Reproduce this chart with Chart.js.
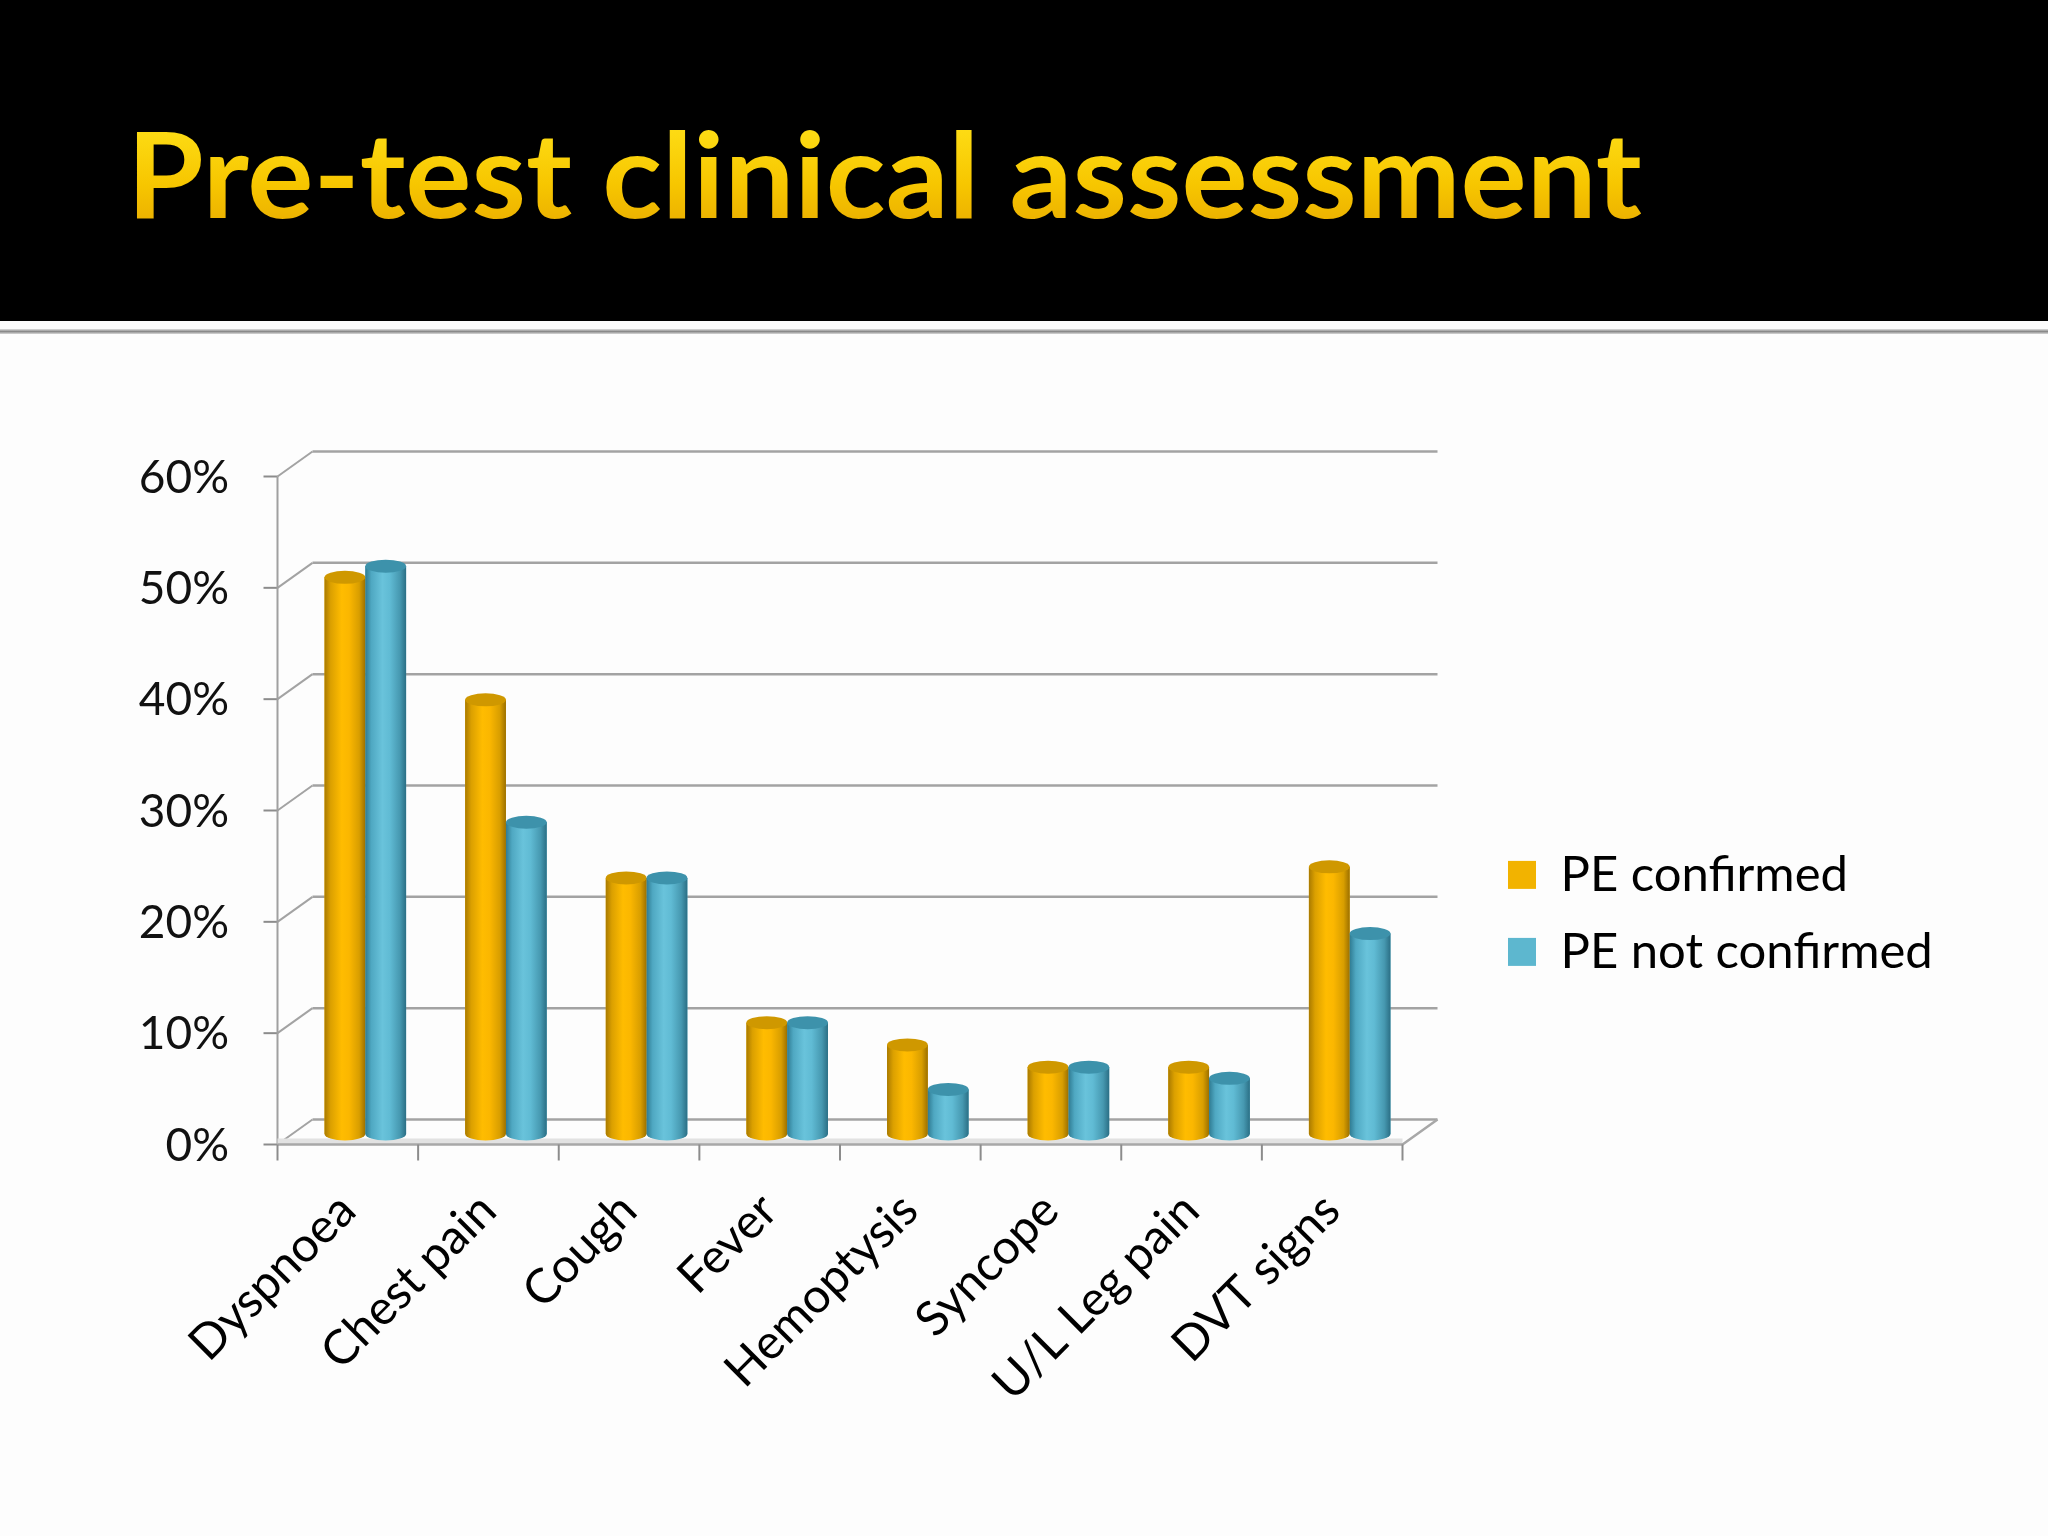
<!DOCTYPE html>
<html>
<head>
<meta charset="utf-8">
<script src="https://cdn.jsdelivr.net/npm/chart.js@4.4.1/dist/chart.umd.min.js"></script>
<style>
  html, body { margin: 0; padding: 0; }
  body { width: 2048px; height: 1536px; background: #fdfdfd; position: relative; overflow: hidden; font-family: Lato, "Open Sans", sans-serif; }
  #header { position: absolute; left: 0; top: 0; width: 2048px; height: 321px; background: #000; }
  #rule { position: absolute; left: 0; top: 329px; width: 2048px; height: 5px;
          background: linear-gradient(#e0e0e0, #8a8a8a 50%, #d8d8d8); }
  #title { position: absolute; left: 127px; top: 113px; margin: 0; font-size: 119px; line-height: 1;
           font-weight: 700; white-space: nowrap; transform-origin: 0 0;
           background: linear-gradient(#ffe21a, #f7c600 60%, #e9ac00); -webkit-background-clip: text;
           background-clip: text; color: transparent; }
  #wrap { position: absolute; left: 0; top: 0; width: 2048px; height: 1536px; }
</style>
</head>
<body>
<div id="header"></div>
<div id="rule"></div>
<h1 id="title">Pre-test clinical assessment</h1>
<div id="wrap"><canvas id="bar"></canvas></div>
<script>
// chart data
const categories = ['Dyspnoea', 'Chest pain', 'Cough', 'Fever', 'Hemoptysis', 'Syncope', 'U/L Leg pain', 'DVT signs'];
const peConfirmed = [50, 39, 23, 10, 8, 6, 6, 24];
const peNotConfirmed = [51, 28, 23, 10, 4, 6, 5, 18];
const yTicks = [0, 10, 20, 30, 40, 50, 60];

// squeeze the title to the slide width
const title = document.getElementById('title');
const tw = title.getBoundingClientRect().width;
title.style.transform = 'scaleX(' + (1515 / tw) + ')';

// 3D frame: back wall, left wall, floor
const frame3d = {
  id: 'frame3d',
  beforeDatasetsDraw(chart) {
    const ctx = chart.ctx;
    const y = chart.scales.y, x = chart.scales.x;
    const L = chart.chartArea.left, R = chart.chartArea.right;
    const dxB = 17.5, dyB = -14.5, dxF = -17.5, dyF = 10.5;
    ctx.save();
    ctx.lineCap = 'butt';
    yTicks.forEach(v => {
      const py = y.getPixelForValue(v);
      ctx.strokeStyle = '#a3a3a3';
      ctx.lineWidth = 2.5;
      ctx.beginPath();
      ctx.moveTo(L + dxB, py + dyB);
      ctx.lineTo(R + dxB, py + dyB);
      ctx.stroke();
      ctx.lineWidth = 2;
      ctx.beginPath();
      ctx.moveTo(L + dxF, py + dyF);
      ctx.lineTo(L + dxB, py + dyB);
      ctx.stroke();
      // tick marks on the front axis
      ctx.strokeStyle = '#8c8c8c';
      ctx.beginPath();
      ctx.moveTo(L + dxF - 14, py + dyF);
      ctx.lineTo(L + dxF, py + dyF);
      ctx.stroke();
    });
    const y0 = y.getPixelForValue(0), yTop = y.getPixelForValue(60);
    // front vertical axis
    ctx.strokeStyle = '#a0a0a0';
    ctx.lineWidth = 2;
    ctx.beginPath();
    ctx.moveTo(L + dxF, yTop + dyF);
    ctx.lineTo(L + dxF, y0 + dyF);
    ctx.stroke();
    // floor front edge and right edge
    ctx.strokeStyle = '#e2e2e2';
    ctx.lineWidth = 6;
    ctx.beginPath();
    ctx.moveTo(L + dxF, y0 + dyF - 3);
    ctx.lineTo(R + dxF, y0 + dyF - 3);
    ctx.stroke();
    ctx.strokeStyle = '#a8a8a8';
    ctx.lineWidth = 2.5;
    ctx.beginPath();
    ctx.moveTo(L + dxF, y0 + dyF);
    ctx.lineTo(R + dxF, y0 + dyF);
    ctx.lineTo(R + dxB, y0 + dyB);
    ctx.stroke();
    // category tick marks under the floor
    ctx.strokeStyle = '#8c8c8c';
    ctx.lineWidth = 2;
    const step = (R - L) / categories.length;
    for (let i = 0; i <= categories.length; i++) {
      const px = x.getPixelForValue(0) - step / 2 + i * step + dxF;
      ctx.beginPath();
      ctx.moveTo(px, y0 + dyF);
      ctx.lineTo(px, y0 + dyF + 16);
      ctx.stroke();
    }
    ctx.restore();
  }
};

// cylinder shading on top of the plain bars
const shades = [
  { stops: ['#a97a00', '#dba000', '#ffbc00', '#fbb700', '#d89e00', '#9c7000'], top: '#cf9800' },
  { stops: ['#2f7b92', '#4fa8c2', '#69c3db', '#60bbd4', '#4698b0', '#2b6f85'], top: '#3d92ab' }
];
const cylinders = {
  id: 'cylinders',
  afterDatasetsDraw(chart) {
    const ctx = chart.ctx;
    ctx.save();
    chart.data.datasets.forEach((ds, di) => {
      const meta = chart.getDatasetMeta(di);
      const s = shades[di];
      meta.data.forEach(el => {
        const w = el.width, left = el.x - w / 2, ry = 6.5;
        const g = ctx.createLinearGradient(left, 0, left + w, 0);
        [0, 0.15, 0.42, 0.6, 0.85, 1].forEach((p, k) => g.addColorStop(p, s.stops[k]));
        ctx.fillStyle = g;
        ctx.fillRect(left, el.y, w, el.base - el.y);
        ctx.beginPath();
        ctx.ellipse(el.x, el.base, w / 2, ry, 0, 0, Math.PI);
        ctx.fill();
        ctx.fillStyle = s.top;
        ctx.beginPath();
        ctx.ellipse(el.x, el.y, w / 2, ry, 0, 0, Math.PI * 2);
        ctx.fill();
      });
    });
    ctx.restore();
  }
};

function createChart() {
  const ctx = document.getElementById('bar');
  new Chart(ctx, {
    type: 'bar',
    data: {
      labels: categories,
      datasets: [{
        label: 'PE confirmed',
        data: peConfirmed,
        backgroundColor: '#f2b300',
        borderWidth: 0
      }, {
        label: 'PE not confirmed',
        data: peNotConfirmed,
        backgroundColor: '#5db7cf',
        borderWidth: 0
      }]
    },
    plugins: [frame3d, cylinders],
    options: {
      responsive: true,
      maintainAspectRatio: false,
      animation: false,
      devicePixelRatio: 1,
      categoryPercentage: 0.58,
      barPercentage: 1.0,
      layout: { padding: { top: 466, bottom: 102, left: 0, right: 118 } },
      plugins: {
        tooltip: { enabled: false },
        legend: {
          position: 'right',
          align: 'start',
          maxWidth: 450,
          title: { display: true, text: ' ', padding: { top: 342, bottom: 0 } },
          labels: {
            boxWidth: 28,
            boxHeight: 28,
            padding: 28,
            color: '#000',
            font: { family: 'Lato', size: 49 }
          }
        }
      },
      scales: {
        x: {
          grid: { display: false, drawTicks: false },
          border: { display: false },
          ticks: {
            color: '#000',
            font: { family: 'Lato', size: 48 },
            minRotation: 45,
            maxRotation: 45,
            padding: 48,
            labelOffset: -18
          },
          afterFit(scale) { scale.height = 300; }
        },
        y: {
          min: 0,
          max: 60,
          grid: { display: false, drawTicks: false },
          border: { display: false },
          ticks: {
            stepSize: 10,
            color: '#111',
            padding: 66,
            labelOffset: 12,
            font: { family: 'Lato', size: 46 },
            callback: (v) => v + '%'
          },
          afterFit(scale) { scale.width = 295; }
        },
        spacer: {
          type: 'linear',
          position: 'right',
          display: true,
          grid: { display: false, drawTicks: false },
          border: { display: false },
          ticks: { display: false },
          afterFit(scale) { scale.width = 60; }
        }
      }
    }
  });
}

document.addEventListener('DOMContentLoaded', createChart);
</script>
</body>
</html>
